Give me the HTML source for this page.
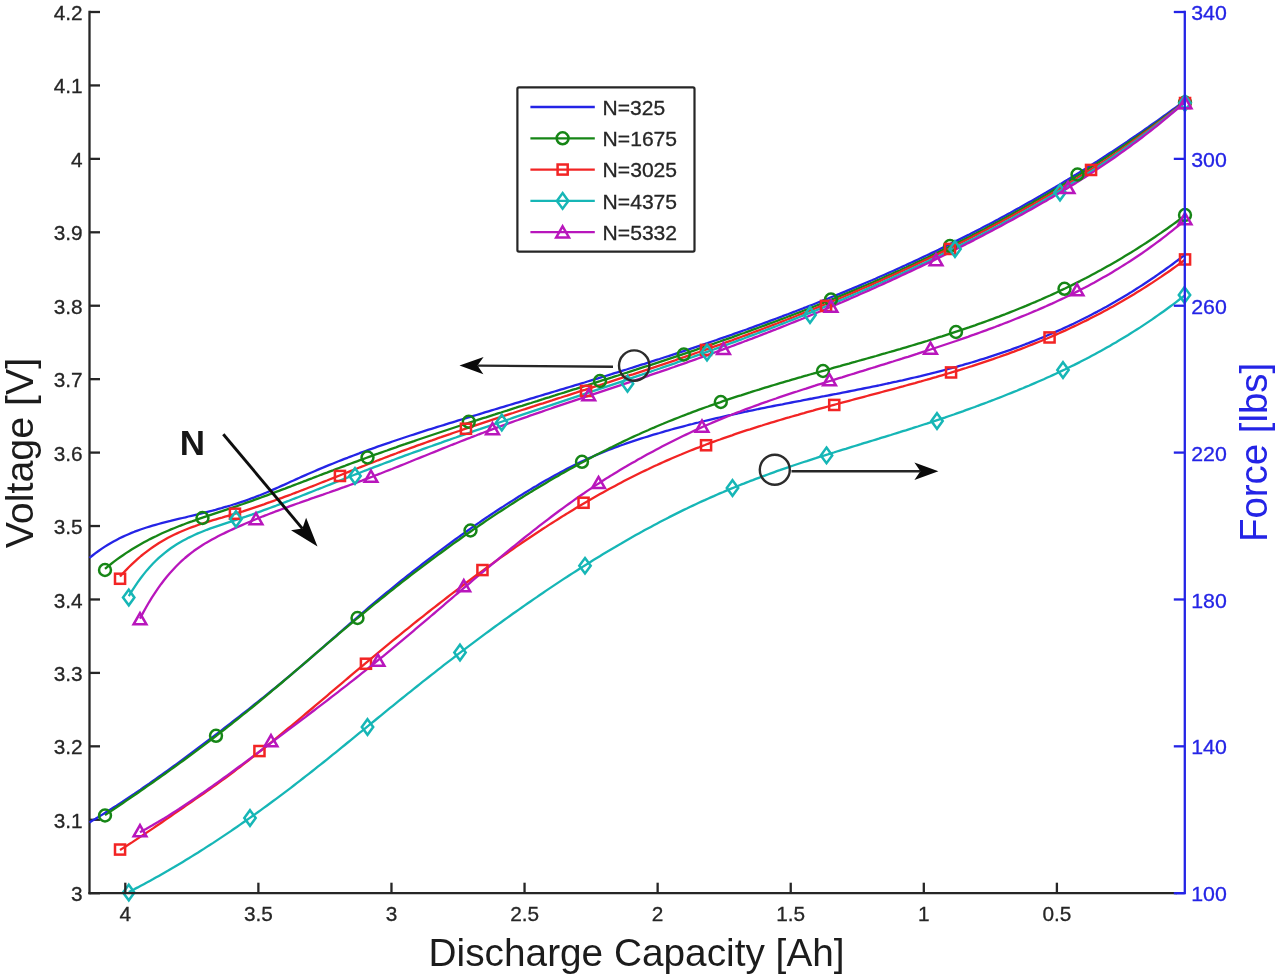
<!DOCTYPE html>
<html lang="en">
<head>
<meta charset="utf-8">
<title>Voltage and Force vs Discharge Capacity</title>
<style>
html,body{margin:0;padding:0;background:#fff;}
body{width:1280px;height:975px;overflow:hidden;font-family:"Liberation Sans",Arial,Helvetica,sans-serif;}
svg{display:block;filter:blur(0.55px);}
</style>
</head>
<body>
<svg width="1280" height="975" viewBox="0 0 1280 975" font-family="'Liberation Sans', Arial, Helvetica, sans-serif">
<rect width="1280" height="975" fill="#fff"/>
<g stroke="#262626" stroke-width="2.3" fill="none" stroke-linecap="butt">
<path d="M89.5,10.85 V894.35"/>
<path d="M89.5,893.20 h10.5"/>
<path d="M89.5,819.77 h10.5"/>
<path d="M89.5,746.33 h10.5"/>
<path d="M89.5,672.90 h10.5"/>
<path d="M89.5,599.47 h10.5"/>
<path d="M89.5,526.03 h10.5"/>
<path d="M89.5,452.60 h10.5"/>
<path d="M89.5,379.17 h10.5"/>
<path d="M89.5,305.73 h10.5"/>
<path d="M89.5,232.30 h10.5"/>
<path d="M89.5,158.87 h10.5"/>
<path d="M89.5,85.43 h10.5"/>
<path d="M89.5,12.00 h10.5"/>
</g>
<g fill="none" stroke-linejoin="round" stroke-linecap="butt">
<path d="M89.5,822.4 L92.5,820.6 L95.5,818.8 L98.5,816.9 L101.5,815.1 L104.5,813.2 L107.5,811.3 L110.5,809.4 L113.5,807.5 L116.5,805.6 L119.5,803.6 L122.5,801.7 L125.5,799.7 L128.5,797.7 L131.5,795.7 L134.5,793.7 L137.5,791.6 L140.5,789.6 L143.5,787.5 L146.5,785.4 L149.5,783.4 L152.5,781.3 L155.5,779.2 L158.5,777.0 L161.5,774.9 L164.5,772.8 L167.5,770.6 L170.5,768.4 L173.5,766.3 L176.5,764.1 L179.5,761.9 L182.5,759.7 L185.5,757.5 L188.5,755.2 L191.5,753.0 L194.5,750.8 L197.5,748.5 L200.5,746.3 L203.5,744.0 L206.5,741.7 L209.5,739.5 L212.5,737.2 L215.5,734.9 L218.5,732.6 L221.5,730.3 L224.5,728.0 L227.5,725.7 L230.5,723.4 L233.5,721.0 L236.5,718.7 L239.5,716.3 L242.5,714.0 L245.5,711.6 L248.5,709.3 L251.5,706.9 L254.5,704.5 L257.5,702.1 L260.5,699.7 L263.5,697.3 L266.5,694.9 L269.5,692.4 L272.5,690.0 L275.5,687.6 L278.5,685.1 L281.5,682.6 L284.5,680.1 L287.5,677.6 L290.5,675.1 L293.5,672.6 L296.5,670.1 L299.5,667.5 L302.5,665.0 L305.5,662.4 L308.5,659.8 L311.5,657.2 L314.5,654.6 L317.5,652.0 L320.5,649.4 L323.5,646.8 L326.5,644.2 L329.5,641.5 L332.5,638.9 L335.5,636.3 L338.5,633.7 L341.5,631.0 L344.5,628.4 L347.5,625.8 L350.5,623.2 L353.5,620.6 L356.5,618.0 L359.5,615.4 L362.5,612.8 L365.5,610.3 L368.5,607.7 L371.5,605.2 L374.5,602.7 L377.5,600.2 L380.5,597.7 L383.5,595.2 L386.5,592.7 L389.5,590.3 L392.5,587.8 L395.5,585.4 L398.5,582.9 L401.5,580.5 L404.5,578.1 L407.5,575.7 L410.5,573.4 L413.5,571.0 L416.5,568.7 L419.5,566.3 L422.5,564.0 L425.5,561.7 L428.5,559.4 L431.5,557.1 L434.5,554.8 L437.5,552.6 L440.5,550.3 L443.5,548.1 L446.5,545.9 L449.5,543.7 L452.5,541.5 L455.5,539.3 L458.5,537.1 L461.5,535.0 L464.5,532.9 L467.5,530.7 L470.5,528.6 L473.5,526.5 L476.5,524.4 L479.5,522.4 L482.5,520.3 L485.5,518.3 L488.5,516.3 L491.5,514.2 L494.5,512.3 L497.5,510.3 L500.5,508.3 L503.5,506.4 L506.5,504.4 L509.5,502.5 L512.5,500.6 L515.5,498.7 L518.5,496.8 L521.5,494.9 L524.5,493.1 L527.5,491.3 L530.5,489.4 L533.5,487.6 L536.5,485.9 L539.5,484.1 L542.5,482.3 L545.5,480.6 L548.5,478.9 L551.5,477.2 L554.5,475.5 L557.5,473.9 L560.5,472.3 L563.5,470.7 L566.5,469.1 L569.5,467.5 L572.5,466.0 L575.5,464.5 L578.5,463.1 L581.5,461.6 L584.5,460.2 L587.5,458.9 L590.5,457.5 L593.5,456.2 L596.5,454.9 L599.5,453.7 L602.5,452.4 L605.5,451.2 L608.5,450.0 L611.5,448.9 L614.5,447.7 L617.5,446.6 L620.5,445.5 L623.5,444.5 L626.5,443.4 L629.5,442.4 L632.5,441.4 L635.5,440.4 L638.5,439.4 L641.5,438.4 L644.5,437.5 L647.5,436.6 L650.5,435.6 L653.5,434.7 L656.5,433.8 L659.5,433.0 L662.5,432.1 L665.5,431.2 L668.5,430.4 L671.5,429.5 L674.5,428.7 L677.5,427.9 L680.5,427.1 L683.5,426.3 L686.5,425.5 L689.5,424.7 L692.5,424.0 L695.5,423.2 L698.5,422.5 L701.5,421.7 L704.5,421.0 L707.5,420.3 L710.5,419.6 L713.5,418.9 L716.5,418.2 L719.5,417.5 L722.5,416.8 L725.5,416.1 L728.5,415.4 L731.5,414.8 L734.5,414.1 L737.5,413.5 L740.5,412.8 L743.5,412.2 L746.5,411.5 L749.5,410.9 L752.5,410.3 L755.5,409.7 L758.5,409.0 L761.5,408.4 L764.5,407.8 L767.5,407.2 L770.5,406.6 L773.5,406.0 L776.5,405.4 L779.5,404.8 L782.5,404.3 L785.5,403.7 L788.5,403.1 L791.5,402.5 L794.5,401.9 L797.5,401.3 L800.5,400.8 L803.5,400.2 L806.5,399.6 L809.5,399.0 L812.5,398.5 L815.5,397.9 L818.5,397.3 L821.5,396.7 L824.5,396.2 L827.5,395.6 L830.5,395.0 L833.5,394.4 L836.5,393.9 L839.5,393.3 L842.5,392.7 L845.5,392.1 L848.5,391.5 L851.5,390.9 L854.5,390.3 L857.5,389.7 L860.5,389.1 L863.5,388.5 L866.5,387.9 L869.5,387.3 L872.5,386.7 L875.5,386.1 L878.5,385.5 L881.5,384.8 L884.5,384.2 L887.5,383.5 L890.5,382.9 L893.5,382.2 L896.5,381.6 L899.5,380.9 L902.5,380.3 L905.5,379.6 L908.5,378.9 L911.5,378.2 L914.5,377.5 L917.5,376.8 L920.5,376.1 L923.5,375.3 L926.5,374.6 L929.5,373.9 L932.5,373.1 L935.5,372.4 L938.5,371.6 L941.5,370.8 L944.5,370.0 L947.5,369.2 L950.5,368.4 L953.5,367.6 L956.5,366.8 L959.5,365.9 L962.5,365.1 L965.5,364.2 L968.5,363.4 L971.5,362.5 L974.5,361.6 L977.5,360.7 L980.5,359.7 L983.5,358.8 L986.5,357.9 L989.5,356.9 L992.5,355.9 L995.5,354.9 L998.5,353.9 L1001.5,352.9 L1004.5,351.9 L1007.5,350.8 L1010.5,349.8 L1013.5,348.7 L1016.5,347.6 L1019.5,346.5 L1022.5,345.4 L1025.5,344.2 L1028.5,343.1 L1031.5,341.9 L1034.5,340.7 L1037.5,339.5 L1040.5,338.3 L1043.5,337.1 L1046.5,335.8 L1049.5,334.5 L1052.5,333.2 L1055.5,331.9 L1058.5,330.6 L1061.5,329.3 L1064.5,327.9 L1067.5,326.5 L1070.5,325.1 L1073.5,323.7 L1076.5,322.2 L1079.5,320.8 L1082.5,319.3 L1085.5,317.8 L1088.5,316.3 L1091.5,314.7 L1094.5,313.1 L1097.5,311.6 L1100.5,309.9 L1103.5,308.3 L1106.5,306.7 L1109.5,305.0 L1112.5,303.3 L1115.5,301.6 L1118.5,299.8 L1121.5,298.0 L1124.5,296.2 L1127.5,294.4 L1130.5,292.6 L1133.5,290.7 L1136.5,288.8 L1139.5,286.9 L1142.5,285.0 L1145.5,283.0 L1148.5,281.0 L1151.5,279.0 L1154.5,277.0 L1157.5,274.9 L1160.5,272.8 L1163.5,270.7 L1166.5,268.5 L1169.5,266.4 L1172.5,264.2 L1175.5,261.9 L1178.5,259.7 L1181.5,257.4 L1184.5,255.1 L1185.0,254.7" stroke="#2424e6" stroke-width="2.3"/>
<path d="M105.0,815.1 L108.0,813.1 L111.0,811.1 L114.0,809.0 L117.0,807.0 L120.0,805.0 L123.0,803.0 L126.0,800.9 L129.0,798.9 L132.0,796.8 L135.0,794.8 L138.0,792.7 L141.0,790.6 L144.0,788.5 L147.0,786.4 L150.0,784.4 L153.0,782.2 L156.0,780.1 L159.0,778.0 L162.0,775.9 L165.0,773.7 L168.0,771.6 L171.0,769.4 L174.0,767.3 L177.0,765.1 L180.0,762.9 L183.0,760.7 L186.0,758.5 L189.0,756.3 L192.0,754.1 L195.0,751.9 L198.0,749.6 L201.0,747.4 L204.0,745.1 L207.0,742.8 L210.0,740.5 L213.0,738.3 L216.0,736.0 L219.0,733.6 L222.0,731.3 L225.0,729.0 L228.0,726.6 L231.0,724.3 L234.0,721.9 L237.0,719.5 L240.0,717.1 L243.0,714.7 L246.0,712.3 L249.0,709.9 L252.0,707.5 L255.0,705.0 L258.0,702.5 L261.0,700.1 L264.0,697.6 L267.0,695.1 L270.0,692.6 L273.0,690.0 L276.0,687.5 L279.0,685.0 L282.0,682.5 L285.0,679.9 L288.0,677.4 L291.0,674.8 L294.0,672.2 L297.0,669.7 L300.0,667.1 L303.0,664.5 L306.0,662.0 L309.0,659.4 L312.0,656.8 L315.0,654.2 L318.0,651.7 L321.0,649.1 L324.0,646.5 L327.0,643.9 L330.0,641.4 L333.0,638.8 L336.0,636.3 L339.0,633.7 L342.0,631.2 L345.0,628.6 L348.0,626.1 L351.0,623.6 L354.0,621.1 L357.0,618.5 L360.0,616.1 L363.0,613.6 L366.0,611.1 L369.0,608.6 L372.0,606.2 L375.0,603.7 L378.0,601.3 L381.0,598.9 L384.0,596.5 L387.0,594.1 L390.0,591.7 L393.0,589.3 L396.0,586.9 L399.0,584.6 L402.0,582.2 L405.0,579.9 L408.0,577.5 L411.0,575.2 L414.0,572.9 L417.0,570.6 L420.0,568.3 L423.0,566.1 L426.0,563.8 L429.0,561.5 L432.0,559.3 L435.0,557.1 L438.0,554.9 L441.0,552.7 L444.0,550.5 L447.0,548.3 L450.0,546.1 L453.0,543.9 L456.0,541.8 L459.0,539.7 L462.0,537.5 L465.0,535.4 L468.0,533.3 L471.0,531.2 L474.0,529.1 L477.0,527.1 L480.0,525.0 L483.0,523.0 L486.0,520.9 L489.0,518.9 L492.0,516.9 L495.0,514.9 L498.0,512.9 L501.0,511.0 L504.0,509.0 L507.0,507.1 L510.0,505.1 L513.0,503.2 L516.0,501.3 L519.0,499.4 L522.0,497.5 L525.0,495.6 L528.0,493.8 L531.0,491.9 L534.0,490.1 L537.0,488.3 L540.0,486.5 L543.0,484.7 L546.0,482.9 L549.0,481.1 L552.0,479.3 L555.0,477.6 L558.0,475.9 L561.0,474.1 L564.0,472.4 L567.0,470.7 L570.0,469.1 L573.0,467.4 L576.0,465.7 L579.0,464.1 L582.0,462.5 L585.0,460.9 L588.0,459.3 L591.0,457.7 L594.0,456.1 L597.0,454.5 L600.0,453.0 L603.0,451.5 L606.0,450.0 L609.0,448.4 L612.0,447.0 L615.0,445.5 L618.0,444.0 L621.0,442.6 L624.0,441.1 L627.0,439.7 L630.0,438.3 L633.0,436.9 L636.0,435.5 L639.0,434.2 L642.0,432.8 L645.0,431.5 L648.0,430.2 L651.0,428.8 L654.0,427.6 L657.0,426.3 L660.0,425.0 L663.0,423.8 L666.0,422.5 L669.0,421.3 L672.0,420.1 L675.0,418.9 L678.0,417.7 L681.0,416.5 L684.0,415.4 L687.0,414.2 L690.0,413.1 L693.0,411.9 L696.0,410.8 L699.0,409.7 L702.0,408.6 L705.0,407.5 L708.0,406.5 L711.0,405.4 L714.0,404.3 L717.0,403.3 L720.0,402.3 L723.0,401.2 L726.0,400.2 L729.0,399.2 L732.0,398.2 L735.0,397.2 L738.0,396.2 L741.0,395.3 L744.0,394.3 L747.0,393.3 L750.0,392.4 L753.0,391.4 L756.0,390.5 L759.0,389.6 L762.0,388.6 L765.0,387.7 L768.0,386.8 L771.0,385.9 L774.0,385.0 L777.0,384.1 L780.0,383.2 L783.0,382.3 L786.0,381.4 L789.0,380.6 L792.0,379.7 L795.0,378.8 L798.0,377.9 L801.0,377.1 L804.0,376.2 L807.0,375.4 L810.0,374.5 L813.0,373.7 L816.0,372.8 L819.0,372.0 L822.0,371.1 L825.0,370.3 L828.0,369.4 L831.0,368.6 L834.0,367.7 L837.0,366.9 L840.0,366.1 L843.0,365.2 L846.0,364.4 L849.0,363.6 L852.0,362.7 L855.0,361.9 L858.0,361.0 L861.0,360.2 L864.0,359.3 L867.0,358.5 L870.0,357.7 L873.0,356.8 L876.0,356.0 L879.0,355.1 L882.0,354.2 L885.0,353.4 L888.0,352.5 L891.0,351.7 L894.0,350.8 L897.0,349.9 L900.0,349.1 L903.0,348.2 L906.0,347.3 L909.0,346.4 L912.0,345.5 L915.0,344.6 L918.0,343.7 L921.0,342.8 L924.0,341.9 L927.0,341.0 L930.0,340.0 L933.0,339.1 L936.0,338.2 L939.0,337.2 L942.0,336.3 L945.0,335.3 L948.0,334.3 L951.0,333.4 L954.0,332.4 L957.0,331.4 L960.0,330.4 L963.0,329.4 L966.0,328.4 L969.0,327.4 L972.0,326.3 L975.0,325.3 L978.0,324.2 L981.0,323.2 L984.0,322.1 L987.0,321.0 L990.0,319.9 L993.0,318.8 L996.0,317.7 L999.0,316.6 L1002.0,315.4 L1005.0,314.3 L1008.0,313.1 L1011.0,311.9 L1014.0,310.7 L1017.0,309.5 L1020.0,308.3 L1023.0,307.1 L1026.0,305.9 L1029.0,304.6 L1032.0,303.3 L1035.0,302.1 L1038.0,300.8 L1041.0,299.5 L1044.0,298.1 L1047.0,296.8 L1050.0,295.5 L1053.0,294.1 L1056.0,292.7 L1059.0,291.3 L1062.0,289.9 L1065.0,288.5 L1068.0,287.0 L1071.0,285.6 L1074.0,284.1 L1077.0,282.6 L1080.0,281.1 L1083.0,279.5 L1086.0,278.0 L1089.0,276.4 L1092.0,274.8 L1095.0,273.2 L1098.0,271.6 L1101.0,270.0 L1104.0,268.3 L1107.0,266.6 L1110.0,264.9 L1113.0,263.2 L1116.0,261.5 L1119.0,259.7 L1122.0,257.9 L1125.0,256.1 L1128.0,254.3 L1131.0,252.5 L1134.0,250.6 L1137.0,248.7 L1140.0,246.8 L1143.0,244.9 L1146.0,243.0 L1149.0,241.0 L1152.0,239.0 L1155.0,237.0 L1158.0,234.9 L1161.0,232.9 L1164.0,230.8 L1167.0,228.7 L1170.0,226.5 L1173.0,224.4 L1176.0,222.2 L1179.0,220.0 L1182.0,217.8 L1185.0,215.5" stroke="#168616" stroke-width="2.3"/>
<path d="M120.0,850.0 L123.0,848.1 L126.0,846.2 L129.0,844.3 L132.0,842.4 L135.0,840.4 L138.0,838.4 L141.0,836.4 L144.0,834.4 L147.0,832.4 L150.0,830.4 L153.0,828.4 L156.0,826.3 L159.0,824.3 L162.0,822.2 L165.0,820.1 L168.0,818.1 L171.0,816.0 L174.0,813.9 L177.0,811.8 L180.0,809.8 L183.0,807.7 L186.0,805.6 L189.0,803.6 L192.0,801.5 L195.0,799.4 L198.0,797.4 L201.0,795.3 L204.0,793.2 L207.0,791.1 L210.0,789.0 L213.0,786.9 L216.0,784.7 L219.0,782.6 L222.0,780.4 L225.0,778.2 L228.0,776.0 L231.0,773.8 L234.0,771.5 L237.0,769.2 L240.0,767.0 L243.0,764.6 L246.0,762.3 L249.0,760.0 L252.0,757.7 L255.0,755.3 L258.0,752.9 L261.0,750.5 L264.0,748.1 L267.0,745.7 L270.0,743.3 L273.0,740.9 L276.0,738.4 L279.0,736.0 L282.0,733.5 L285.0,731.0 L288.0,728.5 L291.0,726.1 L294.0,723.6 L297.0,721.1 L300.0,718.6 L303.0,716.0 L306.0,713.5 L309.0,711.0 L312.0,708.5 L315.0,705.9 L318.0,703.4 L321.0,700.9 L324.0,698.3 L327.0,695.8 L330.0,693.2 L333.0,690.7 L336.0,688.1 L339.0,685.6 L342.0,683.1 L345.0,680.5 L348.0,678.0 L351.0,675.4 L354.0,672.9 L357.0,670.4 L360.0,667.9 L363.0,665.3 L366.0,662.8 L369.0,660.3 L372.0,657.8 L375.0,655.3 L378.0,652.8 L381.0,650.3 L384.0,647.8 L387.0,645.4 L390.0,642.9 L393.0,640.4 L396.0,638.0 L399.0,635.6 L402.0,633.1 L405.0,630.7 L408.0,628.3 L411.0,625.8 L414.0,623.4 L417.0,621.0 L420.0,618.6 L423.0,616.3 L426.0,613.9 L429.0,611.5 L432.0,609.1 L435.0,606.8 L438.0,604.5 L441.0,602.1 L444.0,599.8 L447.0,597.5 L450.0,595.2 L453.0,592.9 L456.0,590.6 L459.0,588.3 L462.0,586.0 L465.0,583.8 L468.0,581.5 L471.0,579.3 L474.0,577.0 L477.0,574.8 L480.0,572.6 L483.0,570.4 L486.0,568.2 L489.0,566.0 L492.0,563.9 L495.0,561.7 L498.0,559.6 L501.0,557.4 L504.0,555.3 L507.0,553.2 L510.0,551.1 L513.0,549.0 L516.0,546.9 L519.0,544.9 L522.0,542.8 L525.0,540.8 L528.0,538.8 L531.0,536.7 L534.0,534.7 L537.0,532.7 L540.0,530.8 L543.0,528.8 L546.0,526.9 L549.0,524.9 L552.0,523.0 L555.0,521.1 L558.0,519.2 L561.0,517.3 L564.0,515.4 L567.0,513.6 L570.0,511.7 L573.0,509.9 L576.0,508.1 L579.0,506.3 L582.0,504.5 L585.0,502.7 L588.0,501.0 L591.0,499.2 L594.0,497.5 L597.0,495.8 L600.0,494.1 L603.0,492.4 L606.0,490.8 L609.0,489.1 L612.0,487.5 L615.0,485.9 L618.0,484.3 L621.0,482.7 L624.0,481.1 L627.0,479.5 L630.0,478.0 L633.0,476.5 L636.0,475.0 L639.0,473.5 L642.0,472.0 L645.0,470.6 L648.0,469.2 L651.0,467.7 L654.0,466.3 L657.0,465.0 L660.0,463.6 L663.0,462.2 L666.0,460.9 L669.0,459.6 L672.0,458.3 L675.0,457.0 L678.0,455.7 L681.0,454.5 L684.0,453.2 L687.0,452.0 L690.0,450.8 L693.0,449.6 L696.0,448.4 L699.0,447.3 L702.0,446.1 L705.0,445.0 L708.0,443.8 L711.0,442.7 L714.0,441.6 L717.0,440.5 L720.0,439.5 L723.0,438.4 L726.0,437.3 L729.0,436.3 L732.0,435.3 L735.0,434.2 L738.0,433.2 L741.0,432.2 L744.0,431.2 L747.0,430.2 L750.0,429.3 L753.0,428.3 L756.0,427.3 L759.0,426.4 L762.0,425.5 L765.0,424.5 L768.0,423.6 L771.0,422.7 L774.0,421.8 L777.0,420.9 L780.0,420.0 L783.0,419.1 L786.0,418.2 L789.0,417.4 L792.0,416.5 L795.0,415.6 L798.0,414.8 L801.0,413.9 L804.0,413.1 L807.0,412.2 L810.0,411.4 L813.0,410.6 L816.0,409.7 L819.0,408.9 L822.0,408.1 L825.0,407.3 L828.0,406.5 L831.0,405.7 L834.0,404.8 L837.0,404.0 L840.0,403.2 L843.0,402.4 L846.0,401.6 L849.0,400.8 L852.0,400.0 L855.0,399.2 L858.0,398.4 L861.0,397.6 L864.0,396.8 L867.0,396.0 L870.0,395.2 L873.0,394.4 L876.0,393.6 L879.0,392.8 L882.0,392.0 L885.0,391.2 L888.0,390.4 L891.0,389.6 L894.0,388.8 L897.0,388.0 L900.0,387.2 L903.0,386.4 L906.0,385.5 L909.0,384.7 L912.0,383.9 L915.0,383.1 L918.0,382.2 L921.0,381.4 L924.0,380.5 L927.0,379.7 L930.0,378.8 L933.0,377.9 L936.0,377.1 L939.0,376.2 L942.0,375.3 L945.0,374.4 L948.0,373.5 L951.0,372.6 L954.0,371.7 L957.0,370.8 L960.0,369.9 L963.0,368.9 L966.0,368.0 L969.0,367.0 L972.0,366.1 L975.0,365.1 L978.0,364.1 L981.0,363.1 L984.0,362.1 L987.0,361.1 L990.0,360.1 L993.0,359.1 L996.0,358.0 L999.0,357.0 L1002.0,355.9 L1005.0,354.9 L1008.0,353.8 L1011.0,352.7 L1014.0,351.6 L1017.0,350.4 L1020.0,349.3 L1023.0,348.2 L1026.0,347.0 L1029.0,345.8 L1032.0,344.6 L1035.0,343.4 L1038.0,342.2 L1041.0,341.0 L1044.0,339.7 L1047.0,338.5 L1050.0,337.2 L1053.0,335.9 L1056.0,334.6 L1059.0,333.3 L1062.0,331.9 L1065.0,330.6 L1068.0,329.2 L1071.0,327.8 L1074.0,326.4 L1077.0,325.0 L1080.0,323.5 L1083.0,322.0 L1086.0,320.6 L1089.0,319.1 L1092.0,317.5 L1095.0,316.0 L1098.0,314.5 L1101.0,312.9 L1104.0,311.3 L1107.0,309.7 L1110.0,308.0 L1113.0,306.4 L1116.0,304.7 L1119.0,303.0 L1122.0,301.3 L1125.0,299.5 L1128.0,297.8 L1131.0,296.0 L1134.0,294.2 L1137.0,292.3 L1140.0,290.5 L1143.0,288.6 L1146.0,286.7 L1149.0,284.8 L1152.0,282.9 L1155.0,280.9 L1158.0,278.9 L1161.0,276.9 L1164.0,274.8 L1167.0,272.8 L1170.0,270.7 L1173.0,268.5 L1176.0,266.4 L1179.0,264.2 L1182.0,262.0 L1185.0,259.8" stroke="#f22424" stroke-width="2.3"/>
<path d="M128.8,892.0 L131.8,890.5 L134.8,888.9 L137.8,887.4 L140.8,885.8 L143.8,884.2 L146.8,882.6 L149.8,880.9 L152.8,879.3 L155.8,877.6 L158.8,875.9 L161.8,874.2 L164.8,872.5 L167.8,870.8 L170.8,869.0 L173.8,867.3 L176.8,865.5 L179.8,863.7 L182.8,861.9 L185.8,860.1 L188.8,858.3 L191.8,856.4 L194.8,854.5 L197.8,852.7 L200.8,850.8 L203.8,848.9 L206.8,846.9 L209.8,845.0 L212.8,843.1 L215.8,841.1 L218.8,839.1 L221.8,837.1 L224.8,835.1 L227.8,833.1 L230.8,831.1 L233.8,829.0 L236.8,827.0 L239.8,824.9 L242.8,822.8 L245.8,820.7 L248.8,818.6 L251.8,816.5 L254.8,814.4 L257.8,812.2 L260.8,810.1 L263.8,807.9 L266.8,805.7 L269.8,803.5 L272.8,801.3 L275.8,799.1 L278.8,796.8 L281.8,794.6 L284.8,792.3 L287.8,790.1 L290.8,787.8 L293.8,785.5 L296.8,783.2 L299.8,780.9 L302.8,778.5 L305.8,776.2 L308.8,773.9 L311.8,771.5 L314.8,769.1 L317.8,766.7 L320.8,764.4 L323.8,762.0 L326.8,759.6 L329.8,757.1 L332.8,754.7 L335.8,752.3 L338.8,749.9 L341.8,747.4 L344.8,745.0 L347.8,742.5 L350.8,740.1 L353.8,737.7 L356.8,735.2 L359.8,732.7 L362.8,730.3 L365.8,727.8 L368.8,725.4 L371.8,722.9 L374.8,720.5 L377.8,718.0 L380.8,715.6 L383.8,713.1 L386.8,710.7 L389.8,708.2 L392.8,705.8 L395.8,703.3 L398.8,700.9 L401.8,698.5 L404.8,696.1 L407.8,693.7 L410.8,691.3 L413.8,688.9 L416.8,686.5 L419.8,684.1 L422.8,681.7 L425.8,679.3 L428.8,677.0 L431.8,674.6 L434.8,672.3 L437.8,669.9 L440.8,667.6 L443.8,665.2 L446.8,662.9 L449.8,660.6 L452.8,658.3 L455.8,656.0 L458.8,653.7 L461.8,651.4 L464.8,649.1 L467.8,646.9 L470.8,644.6 L473.8,642.4 L476.8,640.1 L479.8,637.9 L482.8,635.6 L485.8,633.4 L488.8,631.2 L491.8,629.0 L494.8,626.8 L497.8,624.6 L500.8,622.5 L503.8,620.3 L506.8,618.1 L509.8,616.0 L512.8,613.8 L515.8,611.7 L518.8,609.6 L521.8,607.5 L524.8,605.4 L527.8,603.3 L530.8,601.2 L533.8,599.1 L536.8,597.1 L539.8,595.0 L542.8,593.0 L545.8,590.9 L548.8,588.9 L551.8,586.9 L554.8,584.9 L557.8,582.9 L560.8,580.9 L563.8,578.9 L566.8,577.0 L569.8,575.0 L572.8,573.1 L575.8,571.2 L578.8,569.3 L581.8,567.4 L584.8,565.5 L587.8,563.6 L590.8,561.7 L593.8,559.8 L596.8,558.0 L599.8,556.2 L602.8,554.3 L605.8,552.5 L608.8,550.7 L611.8,548.9 L614.8,547.2 L617.8,545.4 L620.8,543.7 L623.8,541.9 L626.8,540.2 L629.8,538.5 L632.8,536.8 L635.8,535.1 L638.8,533.4 L641.8,531.8 L644.8,530.1 L647.8,528.5 L650.8,526.9 L653.8,525.3 L656.8,523.7 L659.8,522.1 L662.8,520.5 L665.8,519.0 L668.8,517.4 L671.8,515.9 L674.8,514.4 L677.8,512.9 L680.8,511.4 L683.8,509.9 L686.8,508.5 L689.8,507.0 L692.8,505.6 L695.8,504.2 L698.8,502.8 L701.8,501.4 L704.8,500.1 L707.8,498.7 L710.8,497.4 L713.8,496.1 L716.8,494.7 L719.8,493.4 L722.8,492.2 L725.8,490.9 L728.8,489.6 L731.8,488.4 L734.8,487.2 L737.8,486.0 L740.8,484.7 L743.8,483.6 L746.8,482.4 L749.8,481.2 L752.8,480.1 L755.8,478.9 L758.8,477.8 L761.8,476.7 L764.8,475.6 L767.8,474.5 L770.8,473.4 L773.8,472.3 L776.8,471.2 L779.8,470.2 L782.8,469.1 L785.8,468.1 L788.8,467.1 L791.8,466.0 L794.8,465.0 L797.8,464.0 L800.8,463.0 L803.8,462.0 L806.8,461.1 L809.8,460.1 L812.8,459.1 L815.8,458.2 L818.8,457.2 L821.8,456.2 L824.8,455.3 L827.8,454.4 L830.8,453.4 L833.8,452.5 L836.8,451.5 L839.8,450.6 L842.8,449.7 L845.8,448.8 L848.8,447.8 L851.8,446.9 L854.8,446.0 L857.8,445.1 L860.8,444.2 L863.8,443.2 L866.8,442.3 L869.8,441.4 L872.8,440.5 L875.8,439.6 L878.8,438.7 L881.8,437.7 L884.8,436.8 L887.8,435.9 L890.8,435.0 L893.8,434.0 L896.8,433.1 L899.8,432.2 L902.8,431.2 L905.8,430.3 L908.8,429.3 L911.8,428.4 L914.8,427.4 L917.8,426.5 L920.8,425.5 L923.8,424.5 L926.8,423.6 L929.8,422.6 L932.8,421.6 L935.8,420.6 L938.8,419.6 L941.8,418.6 L944.8,417.6 L947.8,416.5 L950.8,415.5 L953.8,414.5 L956.8,413.4 L959.8,412.3 L962.8,411.3 L965.8,410.2 L968.8,409.1 L971.8,408.0 L974.8,407.0 L977.8,405.8 L980.8,404.7 L983.8,403.6 L986.8,402.5 L989.8,401.3 L992.8,400.2 L995.8,399.0 L998.8,397.9 L1001.8,396.7 L1004.8,395.5 L1007.8,394.3 L1010.8,393.1 L1013.8,391.9 L1016.8,390.7 L1019.8,389.4 L1022.8,388.2 L1025.8,386.9 L1028.8,385.7 L1031.8,384.4 L1034.8,383.1 L1037.8,381.8 L1040.8,380.5 L1043.8,379.2 L1046.8,377.8 L1049.8,376.5 L1052.8,375.1 L1055.8,373.7 L1058.8,372.3 L1061.8,370.9 L1064.8,369.5 L1067.8,368.0 L1070.8,366.5 L1073.8,365.1 L1076.8,363.6 L1079.8,362.1 L1082.8,360.5 L1085.8,359.0 L1088.8,357.4 L1091.8,355.8 L1094.8,354.2 L1097.8,352.6 L1100.8,350.9 L1103.8,349.3 L1106.8,347.6 L1109.8,345.9 L1112.8,344.1 L1115.8,342.4 L1118.8,340.6 L1121.8,338.8 L1124.8,337.0 L1127.8,335.2 L1130.8,333.3 L1133.8,331.4 L1136.8,329.5 L1139.8,327.6 L1142.8,325.6 L1145.8,323.6 L1148.8,321.6 L1151.8,319.6 L1154.8,317.5 L1157.8,315.4 L1160.8,313.3 L1163.8,311.2 L1166.8,309.0 L1169.8,306.8 L1172.8,304.6 L1175.8,302.3 L1178.8,300.0 L1181.8,297.7 L1184.5,295.6" stroke="#16b6b6" stroke-width="2.3"/>
<path d="M140.0,832.2 L143.0,830.6 L146.0,829.0 L149.0,827.3 L152.0,825.6 L155.0,823.8 L158.0,822.1 L161.0,820.3 L164.0,818.5 L167.0,816.6 L170.0,814.7 L173.0,812.8 L176.0,810.9 L179.0,809.0 L182.0,807.0 L185.0,805.0 L188.0,803.0 L191.0,801.0 L194.0,799.0 L197.0,796.9 L200.0,794.8 L203.0,792.8 L206.0,790.7 L209.0,788.5 L212.0,786.4 L215.0,784.3 L218.0,782.1 L221.0,780.0 L224.0,777.8 L227.0,775.6 L230.0,773.4 L233.0,771.2 L236.0,769.0 L239.0,766.8 L242.0,764.6 L245.0,762.3 L248.0,760.1 L251.0,757.9 L254.0,755.6 L257.0,753.4 L260.0,751.1 L263.0,748.9 L266.0,746.6 L269.0,744.4 L272.0,742.1 L275.0,739.9 L278.0,737.6 L281.0,735.4 L284.0,733.1 L287.0,730.9 L290.0,728.6 L293.0,726.4 L296.0,724.1 L299.0,721.8 L302.0,719.6 L305.0,717.3 L308.0,715.0 L311.0,712.8 L314.0,710.5 L317.0,708.2 L320.0,705.9 L323.0,703.6 L326.0,701.3 L329.0,699.0 L332.0,696.7 L335.0,694.4 L338.0,692.1 L341.0,689.7 L344.0,687.4 L347.0,685.1 L350.0,682.7 L353.0,680.4 L356.0,678.0 L359.0,675.6 L362.0,673.2 L365.0,670.8 L368.0,668.4 L371.0,666.0 L374.0,663.6 L377.0,661.2 L380.0,658.7 L383.0,656.3 L386.0,653.8 L389.0,651.3 L392.0,648.9 L395.0,646.4 L398.0,643.9 L401.0,641.4 L404.0,638.9 L407.0,636.3 L410.0,633.8 L413.0,631.3 L416.0,628.7 L419.0,626.2 L422.0,623.7 L425.0,621.1 L428.0,618.6 L431.0,616.0 L434.0,613.5 L437.0,610.9 L440.0,608.3 L443.0,605.8 L446.0,603.2 L449.0,600.7 L452.0,598.1 L455.0,595.5 L458.0,593.0 L461.0,590.4 L464.0,587.9 L467.0,585.3 L470.0,582.8 L473.0,580.2 L476.0,577.7 L479.0,575.2 L482.0,572.6 L485.0,570.1 L488.0,567.6 L491.0,565.1 L494.0,562.6 L497.0,560.1 L500.0,557.6 L503.0,555.1 L506.0,552.6 L509.0,550.2 L512.0,547.7 L515.0,545.3 L518.0,542.9 L521.0,540.5 L524.0,538.0 L527.0,535.7 L530.0,533.3 L533.0,530.9 L536.0,528.6 L539.0,526.2 L542.0,523.9 L545.0,521.6 L548.0,519.3 L551.0,517.0 L554.0,514.8 L557.0,512.5 L560.0,510.3 L563.0,508.1 L566.0,505.9 L569.0,503.7 L572.0,501.6 L575.0,499.4 L578.0,497.3 L581.0,495.2 L584.0,493.2 L587.0,491.1 L590.0,489.1 L593.0,487.1 L596.0,485.1 L599.0,483.2 L602.0,481.2 L605.0,479.3 L608.0,477.4 L611.0,475.6 L614.0,473.7 L617.0,471.9 L620.0,470.1 L623.0,468.3 L626.0,466.6 L629.0,464.8 L632.0,463.1 L635.0,461.4 L638.0,459.6 L641.0,458.0 L644.0,456.3 L647.0,454.6 L650.0,453.0 L653.0,451.4 L656.0,449.8 L659.0,448.2 L662.0,446.6 L665.0,445.0 L668.0,443.5 L671.0,442.0 L674.0,440.5 L677.0,439.0 L680.0,437.5 L683.0,436.0 L686.0,434.6 L689.0,433.2 L692.0,431.8 L695.0,430.4 L698.0,429.0 L701.0,427.6 L704.0,426.3 L707.0,425.0 L710.0,423.7 L713.0,422.4 L716.0,421.1 L719.0,419.9 L722.0,418.6 L725.0,417.4 L728.0,416.2 L731.0,415.0 L734.0,413.8 L737.0,412.6 L740.0,411.5 L743.0,410.3 L746.0,409.2 L749.0,408.1 L752.0,407.0 L755.0,405.9 L758.0,404.8 L761.0,403.7 L764.0,402.6 L767.0,401.6 L770.0,400.5 L773.0,399.5 L776.0,398.5 L779.0,397.4 L782.0,396.4 L785.0,395.4 L788.0,394.4 L791.0,393.4 L794.0,392.4 L797.0,391.5 L800.0,390.5 L803.0,389.5 L806.0,388.6 L809.0,387.6 L812.0,386.6 L815.0,385.7 L818.0,384.7 L821.0,383.8 L824.0,382.9 L827.0,381.9 L830.0,381.0 L833.0,380.1 L836.0,379.1 L839.0,378.2 L842.0,377.3 L845.0,376.3 L848.0,375.4 L851.0,374.5 L854.0,373.6 L857.0,372.6 L860.0,371.7 L863.0,370.8 L866.0,369.9 L869.0,368.9 L872.0,368.0 L875.0,367.1 L878.0,366.1 L881.0,365.2 L884.0,364.3 L887.0,363.4 L890.0,362.4 L893.0,361.5 L896.0,360.5 L899.0,359.6 L902.0,358.7 L905.0,357.7 L908.0,356.8 L911.0,355.8 L914.0,354.8 L917.0,353.9 L920.0,352.9 L923.0,351.9 L926.0,351.0 L929.0,350.0 L932.0,349.0 L935.0,348.0 L938.0,347.0 L941.0,346.0 L944.0,345.0 L947.0,344.0 L950.0,343.0 L953.0,342.0 L956.0,341.0 L959.0,339.9 L962.0,338.9 L965.0,337.8 L968.0,336.8 L971.0,335.7 L974.0,334.7 L977.0,333.6 L980.0,332.5 L983.0,331.4 L986.0,330.3 L989.0,329.2 L992.0,328.1 L995.0,327.0 L998.0,325.8 L1001.0,324.7 L1004.0,323.5 L1007.0,322.4 L1010.0,321.2 L1013.0,320.0 L1016.0,318.8 L1019.0,317.6 L1022.0,316.4 L1025.0,315.2 L1028.0,314.0 L1031.0,312.7 L1034.0,311.4 L1037.0,310.2 L1040.0,308.9 L1043.0,307.6 L1046.0,306.3 L1049.0,304.9 L1052.0,303.6 L1055.0,302.2 L1058.0,300.8 L1061.0,299.4 L1064.0,298.0 L1067.0,296.5 L1070.0,295.1 L1073.0,293.6 L1076.0,292.1 L1079.0,290.6 L1082.0,289.0 L1085.0,287.5 L1088.0,285.9 L1091.0,284.3 L1094.0,282.7 L1097.0,281.0 L1100.0,279.3 L1103.0,277.6 L1106.0,275.9 L1109.0,274.2 L1112.0,272.4 L1115.0,270.6 L1118.0,268.8 L1121.0,266.9 L1124.0,265.0 L1127.0,263.1 L1130.0,261.2 L1133.0,259.2 L1136.0,257.2 L1139.0,255.2 L1142.0,253.2 L1145.0,251.1 L1148.0,249.0 L1151.0,246.8 L1154.0,244.6 L1157.0,242.4 L1160.0,240.2 L1163.0,237.9 L1166.0,235.6 L1169.0,233.2 L1172.0,230.8 L1175.0,228.4 L1178.0,226.0 L1181.0,223.5 L1184.0,220.9 L1185.0,220.1" stroke="#b816bc" stroke-width="2.3"/>
<path d="M89.5,557.9 L92.5,555.5 L95.5,553.2 L98.5,551.0 L101.5,548.9 L104.5,546.9 L107.5,545.0 L110.5,543.2 L113.5,541.5 L116.5,539.9 L119.5,538.3 L122.5,536.9 L125.5,535.5 L128.5,534.2 L131.5,532.9 L134.5,531.7 L137.5,530.6 L140.5,529.5 L143.5,528.5 L146.5,527.5 L149.5,526.6 L152.5,525.7 L155.5,524.8 L158.5,524.0 L161.5,523.2 L164.5,522.4 L167.5,521.6 L170.5,520.9 L173.5,520.1 L176.5,519.4 L179.5,518.7 L182.5,518.0 L185.5,517.3 L188.5,516.5 L191.5,515.8 L194.5,515.1 L197.5,514.4 L200.5,513.6 L203.5,512.9 L206.5,512.1 L209.5,511.3 L212.5,510.6 L215.5,509.8 L218.5,508.9 L221.5,508.1 L224.5,507.2 L227.5,506.4 L230.5,505.5 L233.5,504.5 L236.5,503.6 L239.5,502.6 L242.5,501.6 L245.5,500.6 L248.5,499.5 L251.5,498.4 L254.5,497.3 L257.5,496.1 L260.5,495.0 L263.5,493.7 L266.5,492.5 L269.5,491.2 L272.5,489.9 L275.5,488.6 L278.5,487.3 L281.5,485.9 L284.5,484.6 L287.5,483.2 L290.5,481.8 L293.5,480.5 L296.5,479.1 L299.5,477.8 L302.5,476.4 L305.5,475.1 L308.5,473.8 L311.5,472.5 L314.5,471.2 L317.5,469.9 L320.5,468.6 L323.5,467.4 L326.5,466.1 L329.5,464.9 L332.5,463.7 L335.5,462.5 L338.5,461.3 L341.5,460.1 L344.5,458.9 L347.5,457.8 L350.5,456.6 L353.5,455.5 L356.5,454.4 L359.5,453.2 L362.5,452.1 L365.5,451.0 L368.5,449.9 L371.5,448.9 L374.5,447.8 L377.5,446.7 L380.5,445.7 L383.5,444.6 L386.5,443.6 L389.5,442.6 L392.5,441.5 L395.5,440.5 L398.5,439.5 L401.5,438.5 L404.5,437.5 L407.5,436.5 L410.5,435.5 L413.5,434.6 L416.5,433.6 L419.5,432.6 L422.5,431.7 L425.5,430.7 L428.5,429.7 L431.5,428.8 L434.5,427.9 L437.5,426.9 L440.5,426.0 L443.5,425.1 L446.5,424.1 L449.5,423.2 L452.5,422.3 L455.5,421.4 L458.5,420.4 L461.5,419.5 L464.5,418.6 L467.5,417.7 L470.5,416.8 L473.5,415.9 L476.5,415.0 L479.5,414.1 L482.5,413.2 L485.5,412.2 L488.5,411.3 L491.5,410.4 L494.5,409.5 L497.5,408.6 L500.5,407.7 L503.5,406.8 L506.5,405.9 L509.5,405.0 L512.5,404.1 L515.5,403.2 L518.5,402.3 L521.5,401.4 L524.5,400.5 L527.5,399.6 L530.5,398.7 L533.5,397.8 L536.5,396.9 L539.5,396.0 L542.5,395.1 L545.5,394.2 L548.5,393.3 L551.5,392.4 L554.5,391.5 L557.5,390.6 L560.5,389.7 L563.5,388.8 L566.5,387.9 L569.5,387.0 L572.5,386.1 L575.5,385.2 L578.5,384.3 L581.5,383.4 L584.5,382.5 L587.5,381.5 L590.5,380.6 L593.5,379.7 L596.5,378.8 L599.5,377.9 L602.5,376.9 L605.5,376.0 L608.5,375.1 L611.5,374.2 L614.5,373.2 L617.5,372.3 L620.5,371.4 L623.5,370.4 L626.5,369.5 L629.5,368.5 L632.5,367.6 L635.5,366.6 L638.5,365.7 L641.5,364.7 L644.5,363.8 L647.5,362.8 L650.5,361.9 L653.5,360.9 L656.5,359.9 L659.5,359.0 L662.5,358.0 L665.5,357.0 L668.5,356.1 L671.5,355.1 L674.5,354.1 L677.5,353.1 L680.5,352.1 L683.5,351.1 L686.5,350.1 L689.5,349.1 L692.5,348.1 L695.5,347.1 L698.5,346.1 L701.5,345.1 L704.5,344.1 L707.5,343.1 L710.5,342.0 L713.5,341.0 L716.5,340.0 L719.5,338.9 L722.5,337.9 L725.5,336.9 L728.5,335.8 L731.5,334.8 L734.5,333.7 L737.5,332.7 L740.5,331.6 L743.5,330.5 L746.5,329.5 L749.5,328.4 L752.5,327.3 L755.5,326.2 L758.5,325.1 L761.5,324.0 L764.5,322.9 L767.5,321.8 L770.5,320.7 L773.5,319.6 L776.5,318.5 L779.5,317.4 L782.5,316.2 L785.5,315.1 L788.5,314.0 L791.5,312.8 L794.5,311.7 L797.5,310.5 L800.5,309.4 L803.5,308.2 L806.5,307.1 L809.5,305.9 L812.5,304.7 L815.5,303.5 L818.5,302.3 L821.5,301.1 L824.5,299.9 L827.5,298.7 L830.5,297.5 L833.5,296.3 L836.5,295.1 L839.5,293.9 L842.5,292.6 L845.5,291.4 L848.5,290.1 L851.5,288.9 L854.5,287.6 L857.5,286.4 L860.5,285.1 L863.5,283.8 L866.5,282.5 L869.5,281.2 L872.5,280.0 L875.5,278.7 L878.5,277.3 L881.5,276.0 L884.5,274.7 L887.5,273.4 L890.5,272.0 L893.5,270.7 L896.5,269.4 L899.5,268.0 L902.5,266.6 L905.5,265.3 L908.5,263.9 L911.5,262.5 L914.5,261.1 L917.5,259.7 L920.5,258.3 L923.5,256.9 L926.5,255.5 L929.5,254.1 L932.5,252.6 L935.5,251.2 L938.5,249.8 L941.5,248.3 L944.5,246.8 L947.5,245.4 L950.5,243.9 L953.5,242.4 L956.5,240.9 L959.5,239.4 L962.5,237.9 L965.5,236.4 L968.5,234.9 L971.5,233.3 L974.5,231.8 L977.5,230.2 L980.5,228.7 L983.5,227.1 L986.5,225.5 L989.5,224.0 L992.5,222.4 L995.5,220.8 L998.5,219.2 L1001.5,217.5 L1004.5,215.9 L1007.5,214.3 L1010.5,212.7 L1013.5,211.0 L1016.5,209.3 L1019.5,207.7 L1022.5,206.0 L1025.5,204.3 L1028.5,202.6 L1031.5,200.9 L1034.5,199.2 L1037.5,197.5 L1040.5,195.8 L1043.5,194.0 L1046.5,192.3 L1049.5,190.5 L1052.5,188.7 L1055.5,187.0 L1058.5,185.2 L1061.5,183.4 L1064.5,181.6 L1067.5,179.8 L1070.5,177.9 L1073.5,176.1 L1076.5,174.3 L1079.5,172.4 L1082.5,170.5 L1085.5,168.7 L1088.5,166.8 L1091.5,164.9 L1094.5,163.0 L1097.5,161.1 L1100.5,159.1 L1103.5,157.2 L1106.5,155.3 L1109.5,153.3 L1112.5,151.4 L1115.5,149.4 L1118.5,147.4 L1121.5,145.4 L1124.5,143.4 L1127.5,141.4 L1130.5,139.3 L1133.5,137.3 L1136.5,135.3 L1139.5,133.2 L1142.5,131.1 L1145.5,129.0 L1148.5,127.0 L1151.5,124.8 L1154.5,122.7 L1157.5,120.6 L1160.5,118.5 L1163.5,116.3 L1166.5,114.2 L1169.5,112.0 L1172.5,109.8 L1175.5,107.6 L1178.5,105.4 L1181.5,103.2 L1184.5,101.0 L1184.7,100.8" stroke="#2424e6" stroke-width="2.3"/>
<path d="M105.0,568.8 L108.0,566.3 L111.0,564.0 L114.0,561.6 L117.0,559.4 L120.0,557.3 L123.0,555.2 L126.0,553.1 L129.0,551.2 L132.0,549.3 L135.0,547.5 L138.0,545.7 L141.0,544.0 L144.0,542.3 L147.0,540.7 L150.0,539.1 L153.0,537.6 L156.0,536.2 L159.0,534.7 L162.0,533.3 L165.0,532.0 L168.0,530.7 L171.0,529.4 L174.0,528.2 L177.0,527.0 L180.0,525.8 L183.0,524.7 L186.0,523.5 L189.0,522.4 L192.0,521.4 L195.0,520.3 L198.0,519.2 L201.0,518.2 L204.0,517.2 L207.0,516.2 L210.0,515.2 L213.0,514.2 L216.0,513.2 L219.0,512.2 L222.0,511.2 L225.0,510.1 L228.0,509.1 L231.0,508.1 L234.0,507.1 L237.0,506.1 L240.0,505.0 L243.0,504.0 L246.0,502.9 L249.0,501.8 L252.0,500.8 L255.0,499.7 L258.0,498.6 L261.0,497.5 L264.0,496.4 L267.0,495.3 L270.0,494.2 L273.0,493.1 L276.0,491.9 L279.0,490.8 L282.0,489.7 L285.0,488.6 L288.0,487.4 L291.0,486.3 L294.0,485.1 L297.0,484.0 L300.0,482.9 L303.0,481.7 L306.0,480.6 L309.0,479.4 L312.0,478.3 L315.0,477.1 L318.0,476.0 L321.0,474.8 L324.0,473.7 L327.0,472.6 L330.0,471.4 L333.0,470.3 L336.0,469.1 L339.0,468.0 L342.0,466.9 L345.0,465.8 L348.0,464.6 L351.0,463.5 L354.0,462.4 L357.0,461.3 L360.0,460.2 L363.0,459.1 L366.0,458.0 L369.0,456.9 L372.0,455.8 L375.0,454.7 L378.0,453.7 L381.0,452.6 L384.0,451.5 L387.0,450.5 L390.0,449.4 L393.0,448.3 L396.0,447.3 L399.0,446.2 L402.0,445.2 L405.0,444.2 L408.0,443.1 L411.0,442.1 L414.0,441.1 L417.0,440.0 L420.0,439.0 L423.0,438.0 L426.0,437.0 L429.0,436.0 L432.0,435.0 L435.0,434.0 L438.0,433.0 L441.0,432.0 L444.0,431.0 L447.0,430.0 L450.0,429.0 L453.0,428.0 L456.0,427.0 L459.0,426.0 L462.0,425.0 L465.0,424.1 L468.0,423.1 L471.0,422.1 L474.0,421.1 L477.0,420.2 L480.0,419.2 L483.0,418.2 L486.0,417.3 L489.0,416.3 L492.0,415.3 L495.0,414.4 L498.0,413.4 L501.0,412.5 L504.0,411.5 L507.0,410.6 L510.0,409.6 L513.0,408.6 L516.0,407.7 L519.0,406.7 L522.0,405.8 L525.0,404.8 L528.0,403.9 L531.0,403.0 L534.0,402.0 L537.0,401.1 L540.0,400.1 L543.0,399.2 L546.0,398.2 L549.0,397.3 L552.0,396.3 L555.0,395.4 L558.0,394.4 L561.0,393.5 L564.0,392.6 L567.0,391.6 L570.0,390.7 L573.0,389.7 L576.0,388.8 L579.0,387.8 L582.0,386.9 L585.0,385.9 L588.0,385.0 L591.0,384.0 L594.0,383.1 L597.0,382.1 L600.0,381.2 L603.0,380.2 L606.0,379.3 L609.0,378.3 L612.0,377.4 L615.0,376.4 L618.0,375.5 L621.0,374.5 L624.0,373.5 L627.0,372.6 L630.0,371.6 L633.0,370.6 L636.0,369.7 L639.0,368.7 L642.0,367.7 L645.0,366.7 L648.0,365.8 L651.0,364.8 L654.0,363.8 L657.0,362.8 L660.0,361.8 L663.0,360.8 L666.0,359.8 L669.0,358.8 L672.0,357.8 L675.0,356.8 L678.0,355.8 L681.0,354.8 L684.0,353.8 L687.0,352.8 L690.0,351.8 L693.0,350.8 L696.0,349.8 L699.0,348.7 L702.0,347.7 L705.0,346.7 L708.0,345.6 L711.0,344.6 L714.0,343.6 L717.0,342.5 L720.0,341.5 L723.0,340.4 L726.0,339.4 L729.0,338.3 L732.0,337.3 L735.0,336.2 L738.0,335.1 L741.0,334.0 L744.0,333.0 L747.0,331.9 L750.0,330.8 L753.0,329.7 L756.0,328.6 L759.0,327.5 L762.0,326.4 L765.0,325.3 L768.0,324.2 L771.0,323.1 L774.0,322.0 L777.0,320.9 L780.0,319.7 L783.0,318.6 L786.0,317.5 L789.0,316.3 L792.0,315.2 L795.0,314.0 L798.0,312.9 L801.0,311.7 L804.0,310.5 L807.0,309.4 L810.0,308.2 L813.0,307.0 L816.0,305.8 L819.0,304.6 L822.0,303.4 L825.0,302.2 L828.0,301.0 L831.0,299.8 L834.0,298.6 L837.0,297.3 L840.0,296.1 L843.0,294.9 L846.0,293.6 L849.0,292.4 L852.0,291.1 L855.0,289.9 L858.0,288.6 L861.0,287.3 L864.0,286.0 L867.0,284.8 L870.0,283.5 L873.0,282.2 L876.0,280.9 L879.0,279.6 L882.0,278.2 L885.0,276.9 L888.0,275.6 L891.0,274.2 L894.0,272.9 L897.0,271.5 L900.0,270.2 L903.0,268.8 L906.0,267.5 L909.0,266.1 L912.0,264.7 L915.0,263.3 L918.0,261.9 L921.0,260.5 L924.0,259.1 L927.0,257.7 L930.0,256.2 L933.0,254.8 L936.0,253.3 L939.0,251.9 L942.0,250.4 L945.0,249.0 L948.0,247.5 L951.0,246.0 L954.0,244.5 L957.0,243.0 L960.0,241.5 L963.0,240.0 L966.0,238.5 L969.0,237.0 L972.0,235.4 L975.0,233.9 L978.0,232.3 L981.0,230.8 L984.0,229.2 L987.0,227.6 L990.0,226.0 L993.0,224.4 L996.0,222.8 L999.0,221.2 L1002.0,219.6 L1005.0,217.9 L1008.0,216.3 L1011.0,214.7 L1014.0,213.0 L1017.0,211.3 L1020.0,209.7 L1023.0,208.0 L1026.0,206.3 L1029.0,204.6 L1032.0,202.9 L1035.0,201.1 L1038.0,199.4 L1041.0,197.7 L1044.0,195.9 L1047.0,194.2 L1050.0,192.4 L1053.0,190.6 L1056.0,188.8 L1059.0,187.0 L1062.0,185.2 L1065.0,183.4 L1068.0,181.6 L1071.0,179.7 L1074.0,177.9 L1077.0,176.0 L1080.0,174.2 L1083.0,172.3 L1086.0,170.4 L1089.0,168.5 L1092.0,166.6 L1095.0,164.7 L1098.0,162.7 L1101.0,160.8 L1104.0,158.8 L1107.0,156.9 L1110.0,154.9 L1113.0,152.9 L1116.0,150.9 L1119.0,148.9 L1122.0,146.9 L1125.0,144.9 L1128.0,142.8 L1131.0,140.8 L1134.0,138.7 L1137.0,136.6 L1140.0,134.6 L1143.0,132.5 L1146.0,130.4 L1149.0,128.2 L1152.0,126.1 L1155.0,124.0 L1158.0,121.8 L1161.0,119.7 L1164.0,117.5 L1167.0,115.3 L1170.0,113.1 L1173.0,110.9 L1176.0,108.7 L1179.0,106.4 L1182.0,104.2 L1184.7,102.1" stroke="#168616" stroke-width="2.3"/>
<path d="M120.0,576.6 L123.0,573.3 L126.0,570.1 L129.0,567.0 L132.0,564.1 L135.0,561.3 L138.0,558.6 L141.0,556.0 L144.0,553.6 L147.0,551.3 L150.0,549.1 L153.0,547.0 L156.0,545.0 L159.0,543.0 L162.0,541.2 L165.0,539.5 L168.0,537.8 L171.0,536.3 L174.0,534.8 L177.0,533.4 L180.0,532.0 L183.0,530.7 L186.0,529.5 L189.0,528.3 L192.0,527.1 L195.0,526.1 L198.0,525.0 L201.0,524.0 L204.0,523.0 L207.0,522.1 L210.0,521.1 L213.0,520.2 L216.0,519.3 L219.0,518.4 L222.0,517.6 L225.0,516.7 L228.0,515.8 L231.0,514.9 L234.0,514.0 L237.0,513.1 L240.0,512.2 L243.0,511.3 L246.0,510.3 L249.0,509.3 L252.0,508.3 L255.0,507.3 L258.0,506.3 L261.0,505.3 L264.0,504.3 L267.0,503.2 L270.0,502.2 L273.0,501.1 L276.0,500.0 L279.0,498.9 L282.0,497.8 L285.0,496.7 L288.0,495.6 L291.0,494.5 L294.0,493.3 L297.0,492.2 L300.0,491.0 L303.0,489.9 L306.0,488.7 L309.0,487.5 L312.0,486.4 L315.0,485.2 L318.0,484.0 L321.0,482.8 L324.0,481.6 L327.0,480.5 L330.0,479.3 L333.0,478.1 L336.0,476.9 L339.0,475.7 L342.0,474.5 L345.0,473.3 L348.0,472.1 L351.0,470.9 L354.0,469.7 L357.0,468.5 L360.0,467.3 L363.0,466.2 L366.0,465.0 L369.0,463.8 L372.0,462.6 L375.0,461.5 L378.0,460.3 L381.0,459.2 L384.0,458.0 L387.0,456.9 L390.0,455.7 L393.0,454.6 L396.0,453.5 L399.0,452.3 L402.0,451.2 L405.0,450.1 L408.0,449.0 L411.0,447.9 L414.0,446.8 L417.0,445.7 L420.0,444.7 L423.0,443.6 L426.0,442.5 L429.0,441.4 L432.0,440.4 L435.0,439.3 L438.0,438.2 L441.0,437.2 L444.0,436.1 L447.0,435.1 L450.0,434.1 L453.0,433.0 L456.0,432.0 L459.0,431.0 L462.0,429.9 L465.0,428.9 L468.0,427.9 L471.0,426.9 L474.0,425.9 L477.0,424.9 L480.0,423.9 L483.0,422.9 L486.0,421.9 L489.0,420.9 L492.0,419.9 L495.0,418.9 L498.0,417.9 L501.0,416.9 L504.0,415.9 L507.0,414.9 L510.0,413.9 L513.0,413.0 L516.0,412.0 L519.0,411.0 L522.0,410.0 L525.0,409.1 L528.0,408.1 L531.0,407.1 L534.0,406.2 L537.0,405.2 L540.0,404.2 L543.0,403.3 L546.0,402.3 L549.0,401.3 L552.0,400.4 L555.0,399.4 L558.0,398.4 L561.0,397.5 L564.0,396.5 L567.0,395.6 L570.0,394.6 L573.0,393.6 L576.0,392.7 L579.0,391.7 L582.0,390.7 L585.0,389.8 L588.0,388.8 L591.0,387.9 L594.0,386.9 L597.0,385.9 L600.0,385.0 L603.0,384.0 L606.0,383.0 L609.0,382.1 L612.0,381.1 L615.0,380.1 L618.0,379.1 L621.0,378.2 L624.0,377.2 L627.0,376.2 L630.0,375.2 L633.0,374.3 L636.0,373.3 L639.0,372.3 L642.0,371.3 L645.0,370.3 L648.0,369.3 L651.0,368.3 L654.0,367.3 L657.0,366.3 L660.0,365.3 L663.0,364.3 L666.0,363.3 L669.0,362.3 L672.0,361.3 L675.0,360.3 L678.0,359.2 L681.0,358.2 L684.0,357.2 L687.0,356.1 L690.0,355.1 L693.0,354.1 L696.0,353.0 L699.0,352.0 L702.0,350.9 L705.0,349.9 L708.0,348.8 L711.0,347.8 L714.0,346.7 L717.0,345.6 L720.0,344.6 L723.0,343.5 L726.0,342.4 L729.0,341.3 L732.0,340.3 L735.0,339.2 L738.0,338.1 L741.0,337.0 L744.0,335.9 L747.0,334.8 L750.0,333.7 L753.0,332.5 L756.0,331.4 L759.0,330.3 L762.0,329.2 L765.0,328.0 L768.0,326.9 L771.0,325.8 L774.0,324.6 L777.0,323.5 L780.0,322.3 L783.0,321.2 L786.0,320.0 L789.0,318.8 L792.0,317.7 L795.0,316.5 L798.0,315.3 L801.0,314.1 L804.0,312.9 L807.0,311.7 L810.0,310.5 L813.0,309.3 L816.0,308.1 L819.0,306.9 L822.0,305.7 L825.0,304.5 L828.0,303.2 L831.0,302.0 L834.0,300.7 L837.0,299.5 L840.0,298.2 L843.0,297.0 L846.0,295.7 L849.0,294.5 L852.0,293.2 L855.0,291.9 L858.0,290.6 L861.0,289.3 L864.0,288.0 L867.0,286.7 L870.0,285.4 L873.0,284.1 L876.0,282.8 L879.0,281.5 L882.0,280.1 L885.0,278.8 L888.0,277.4 L891.0,276.1 L894.0,274.7 L897.0,273.4 L900.0,272.0 L903.0,270.6 L906.0,269.2 L909.0,267.9 L912.0,266.5 L915.0,265.1 L918.0,263.6 L921.0,262.2 L924.0,260.8 L927.0,259.4 L930.0,258.0 L933.0,256.5 L936.0,255.1 L939.0,253.6 L942.0,252.1 L945.0,250.7 L948.0,249.2 L951.0,247.7 L954.0,246.2 L957.0,244.7 L960.0,243.2 L963.0,241.7 L966.0,240.2 L969.0,238.7 L972.0,237.2 L975.0,235.6 L978.0,234.1 L981.0,232.5 L984.0,231.0 L987.0,229.4 L990.0,227.8 L993.0,226.2 L996.0,224.6 L999.0,223.0 L1002.0,221.4 L1005.0,219.8 L1008.0,218.2 L1011.0,216.6 L1014.0,214.9 L1017.0,213.3 L1020.0,211.6 L1023.0,210.0 L1026.0,208.3 L1029.0,206.6 L1032.0,204.9 L1035.0,203.2 L1038.0,201.5 L1041.0,199.8 L1044.0,198.1 L1047.0,196.4 L1050.0,194.6 L1053.0,192.8 L1056.0,191.1 L1059.0,189.3 L1062.0,187.5 L1065.0,185.7 L1068.0,183.9 L1071.0,182.1 L1074.0,180.2 L1077.0,178.4 L1080.0,176.5 L1083.0,174.6 L1086.0,172.7 L1089.0,170.8 L1092.0,168.9 L1095.0,167.0 L1098.0,165.0 L1101.0,163.1 L1104.0,161.1 L1107.0,159.1 L1110.0,157.1 L1113.0,155.1 L1116.0,153.1 L1119.0,151.0 L1122.0,148.9 L1125.0,146.9 L1128.0,144.8 L1131.0,142.6 L1134.0,140.5 L1137.0,138.4 L1140.0,136.2 L1143.0,134.0 L1146.0,131.8 L1149.0,129.6 L1152.0,127.4 L1155.0,125.1 L1158.0,122.9 L1161.0,120.6 L1164.0,118.3 L1167.0,115.9 L1170.0,113.6 L1173.0,111.2 L1176.0,108.8 L1179.0,106.4 L1182.0,104.0 L1184.7,101.8" stroke="#f22424" stroke-width="2.3"/>
<path d="M128.8,596.2 L131.8,591.2 L134.8,586.6 L137.8,582.1 L140.8,578.0 L143.8,574.1 L146.8,570.4 L149.8,567.0 L152.8,563.8 L155.8,560.8 L158.8,557.9 L161.8,555.3 L164.8,552.8 L167.8,550.5 L170.8,548.3 L173.8,546.2 L176.8,544.3 L179.8,542.5 L182.8,540.8 L185.8,539.2 L188.8,537.6 L191.8,536.2 L194.8,534.8 L197.8,533.4 L200.8,532.2 L203.8,531.0 L206.8,529.8 L209.8,528.7 L212.8,527.6 L215.8,526.6 L218.8,525.6 L221.8,524.6 L224.8,523.6 L227.8,522.6 L230.8,521.7 L233.8,520.7 L236.8,519.7 L239.8,518.7 L242.8,517.7 L245.8,516.7 L248.8,515.6 L251.8,514.6 L254.8,513.5 L257.8,512.4 L260.8,511.3 L263.8,510.2 L266.8,509.1 L269.8,508.0 L272.8,506.9 L275.8,505.8 L278.8,504.6 L281.8,503.5 L284.8,502.3 L287.8,501.2 L290.8,500.0 L293.8,498.8 L296.8,497.7 L299.8,496.5 L302.8,495.3 L305.8,494.1 L308.8,492.9 L311.8,491.7 L314.8,490.5 L317.8,489.3 L320.8,488.2 L323.8,487.0 L326.8,485.8 L329.8,484.6 L332.8,483.4 L335.8,482.2 L338.8,481.0 L341.8,479.8 L344.8,478.6 L347.8,477.4 L350.8,476.2 L353.8,475.0 L356.8,473.9 L359.8,472.7 L362.8,471.5 L365.8,470.4 L368.8,469.2 L371.8,468.1 L374.8,466.9 L377.8,465.8 L380.8,464.7 L383.8,463.5 L386.8,462.4 L389.8,461.3 L392.8,460.2 L395.8,459.0 L398.8,457.9 L401.8,456.8 L404.8,455.7 L407.8,454.6 L410.8,453.5 L413.8,452.4 L416.8,451.3 L419.8,450.3 L422.8,449.2 L425.8,448.1 L428.8,447.0 L431.8,446.0 L434.8,444.9 L437.8,443.8 L440.8,442.8 L443.8,441.7 L446.8,440.6 L449.8,439.6 L452.8,438.5 L455.8,437.5 L458.8,436.4 L461.8,435.4 L464.8,434.3 L467.8,433.3 L470.8,432.3 L473.8,431.2 L476.8,430.2 L479.8,429.2 L482.8,428.1 L485.8,427.1 L488.8,426.1 L491.8,425.1 L494.8,424.0 L497.8,423.0 L500.8,422.0 L503.8,421.0 L506.8,420.0 L509.8,419.0 L512.8,417.9 L515.8,416.9 L518.8,415.9 L521.8,414.9 L524.8,413.9 L527.8,412.9 L530.8,411.9 L533.8,410.9 L536.8,409.9 L539.8,408.9 L542.8,407.9 L545.8,406.9 L548.8,405.9 L551.8,404.9 L554.8,403.9 L557.8,402.9 L560.8,401.9 L563.8,400.9 L566.8,399.9 L569.8,398.9 L572.8,397.9 L575.8,396.9 L578.8,395.9 L581.8,394.9 L584.8,393.9 L587.8,392.9 L590.8,391.9 L593.8,390.8 L596.8,389.8 L599.8,388.8 L602.8,387.8 L605.8,386.8 L608.8,385.8 L611.8,384.8 L614.8,383.8 L617.8,382.8 L620.8,381.8 L623.8,380.8 L626.8,379.8 L629.8,378.7 L632.8,377.7 L635.8,376.7 L638.8,375.7 L641.8,374.7 L644.8,373.6 L647.8,372.6 L650.8,371.6 L653.8,370.5 L656.8,369.5 L659.8,368.5 L662.8,367.4 L665.8,366.4 L668.8,365.4 L671.8,364.3 L674.8,363.3 L677.8,362.2 L680.8,361.2 L683.8,360.1 L686.8,359.1 L689.8,358.0 L692.8,357.0 L695.8,355.9 L698.8,354.8 L701.8,353.8 L704.8,352.7 L707.8,351.6 L710.8,350.5 L713.8,349.5 L716.8,348.4 L719.8,347.3 L722.8,346.2 L725.8,345.1 L728.8,344.0 L731.8,342.9 L734.8,341.8 L737.8,340.7 L740.8,339.6 L743.8,338.5 L746.8,337.3 L749.8,336.2 L752.8,335.1 L755.8,334.0 L758.8,332.8 L761.8,331.7 L764.8,330.6 L767.8,329.4 L770.8,328.3 L773.8,327.1 L776.8,326.0 L779.8,324.8 L782.8,323.6 L785.8,322.5 L788.8,321.3 L791.8,320.1 L794.8,318.9 L797.8,317.7 L800.8,316.5 L803.8,315.4 L806.8,314.2 L809.8,312.9 L812.8,311.7 L815.8,310.5 L818.8,309.3 L821.8,308.1 L824.8,306.8 L827.8,305.6 L830.8,304.4 L833.8,303.1 L836.8,301.9 L839.8,300.6 L842.8,299.4 L845.8,298.1 L848.8,296.8 L851.8,295.6 L854.8,294.3 L857.8,293.0 L860.8,291.7 L863.8,290.4 L866.8,289.1 L869.8,287.8 L872.8,286.5 L875.8,285.1 L878.8,283.8 L881.8,282.5 L884.8,281.1 L887.8,279.8 L890.8,278.5 L893.8,277.1 L896.8,275.7 L899.8,274.4 L902.8,273.0 L905.8,271.6 L908.8,270.2 L911.8,268.8 L914.8,267.4 L917.8,266.0 L920.8,264.6 L923.8,263.2 L926.8,261.8 L929.8,260.3 L932.8,258.9 L935.8,257.4 L938.8,256.0 L941.8,254.5 L944.8,253.0 L947.8,251.6 L950.8,250.1 L953.8,248.6 L956.8,247.1 L959.8,245.6 L962.8,244.1 L965.8,242.6 L968.8,241.0 L971.8,239.5 L974.8,238.0 L977.8,236.4 L980.8,234.9 L983.8,233.3 L986.8,231.7 L989.8,230.2 L992.8,228.6 L995.8,227.0 L998.8,225.4 L1001.8,223.8 L1004.8,222.1 L1007.8,220.5 L1010.8,218.9 L1013.8,217.2 L1016.8,215.6 L1019.8,213.9 L1022.8,212.3 L1025.8,210.6 L1028.8,208.9 L1031.8,207.2 L1034.8,205.5 L1037.8,203.8 L1040.8,202.0 L1043.8,200.3 L1046.8,198.6 L1049.8,196.8 L1052.8,195.0 L1055.8,193.2 L1058.8,191.4 L1061.8,189.6 L1064.8,187.8 L1067.8,186.0 L1070.8,184.1 L1073.8,182.3 L1076.8,180.4 L1079.8,178.5 L1082.8,176.6 L1085.8,174.7 L1088.8,172.8 L1091.8,170.9 L1094.8,168.9 L1097.8,166.9 L1100.8,165.0 L1103.8,163.0 L1106.8,160.9 L1109.8,158.9 L1112.8,156.9 L1115.8,154.8 L1118.8,152.7 L1121.8,150.6 L1124.8,148.5 L1127.8,146.4 L1130.8,144.2 L1133.8,142.1 L1136.8,139.9 L1139.8,137.7 L1142.8,135.4 L1145.8,133.2 L1148.8,130.9 L1151.8,128.7 L1154.8,126.4 L1157.8,124.0 L1160.8,121.7 L1163.8,119.3 L1166.8,117.0 L1169.8,114.6 L1172.8,112.1 L1175.8,109.7 L1178.8,107.2 L1181.8,104.7 L1184.7,102.3" stroke="#16b6b6" stroke-width="2.3"/>
<path d="M140.0,618.6 L143.0,612.9 L146.0,607.5 L149.0,602.3 L152.0,597.4 L155.0,592.8 L158.0,588.4 L161.0,584.2 L164.0,580.3 L167.0,576.5 L170.0,573.0 L173.0,569.7 L176.0,566.5 L179.0,563.5 L182.0,560.7 L185.0,558.0 L188.0,555.5 L191.0,553.1 L194.0,550.8 L197.0,548.7 L200.0,546.7 L203.0,544.8 L206.0,542.9 L209.0,541.2 L212.0,539.5 L215.0,537.9 L218.0,536.3 L221.0,534.8 L224.0,533.4 L227.0,531.9 L230.0,530.5 L233.0,529.1 L236.0,527.7 L239.0,526.4 L242.0,525.1 L245.0,523.8 L248.0,522.5 L251.0,521.2 L254.0,520.0 L257.0,518.8 L260.0,517.5 L263.0,516.3 L266.0,515.2 L269.0,514.0 L272.0,512.9 L275.0,511.7 L278.0,510.6 L281.0,509.5 L284.0,508.4 L287.0,507.3 L290.0,506.2 L293.0,505.1 L296.0,504.0 L299.0,503.0 L302.0,501.9 L305.0,500.8 L308.0,499.8 L311.0,498.7 L314.0,497.7 L317.0,496.6 L320.0,495.6 L323.0,494.6 L326.0,493.5 L329.0,492.5 L332.0,491.4 L335.0,490.4 L338.0,489.3 L341.0,488.2 L344.0,487.2 L347.0,486.1 L350.0,485.0 L353.0,483.9 L356.0,482.8 L359.0,481.7 L362.0,480.6 L365.0,479.4 L368.0,478.3 L371.0,477.2 L374.0,476.0 L377.0,474.8 L380.0,473.7 L383.0,472.5 L386.0,471.3 L389.0,470.1 L392.0,469.0 L395.0,467.8 L398.0,466.6 L401.0,465.4 L404.0,464.2 L407.0,463.0 L410.0,461.8 L413.0,460.5 L416.0,459.3 L419.0,458.1 L422.0,456.9 L425.0,455.7 L428.0,454.5 L431.0,453.3 L434.0,452.1 L437.0,450.9 L440.0,449.6 L443.0,448.4 L446.0,447.2 L449.0,446.0 L452.0,444.8 L455.0,443.7 L458.0,442.5 L461.0,441.3 L464.0,440.1 L467.0,438.9 L470.0,437.8 L473.0,436.6 L476.0,435.5 L479.0,434.3 L482.0,433.2 L485.0,432.0 L488.0,430.9 L491.0,429.8 L494.0,428.7 L497.0,427.6 L500.0,426.5 L503.0,425.4 L506.0,424.3 L509.0,423.2 L512.0,422.1 L515.0,421.0 L518.0,420.0 L521.0,418.9 L524.0,417.8 L527.0,416.8 L530.0,415.7 L533.0,414.7 L536.0,413.6 L539.0,412.6 L542.0,411.6 L545.0,410.5 L548.0,409.5 L551.0,408.5 L554.0,407.4 L557.0,406.4 L560.0,405.4 L563.0,404.4 L566.0,403.4 L569.0,402.4 L572.0,401.4 L575.0,400.3 L578.0,399.3 L581.0,398.3 L584.0,397.3 L587.0,396.3 L590.0,395.3 L593.0,394.3 L596.0,393.3 L599.0,392.3 L602.0,391.3 L605.0,390.3 L608.0,389.3 L611.0,388.3 L614.0,387.3 L617.0,386.3 L620.0,385.3 L623.0,384.3 L626.0,383.3 L629.0,382.3 L632.0,381.3 L635.0,380.3 L638.0,379.3 L641.0,378.3 L644.0,377.3 L647.0,376.3 L650.0,375.2 L653.0,374.2 L656.0,373.2 L659.0,372.2 L662.0,371.1 L665.0,370.1 L668.0,369.1 L671.0,368.0 L674.0,367.0 L677.0,365.9 L680.0,364.9 L683.0,363.8 L686.0,362.8 L689.0,361.7 L692.0,360.7 L695.0,359.6 L698.0,358.5 L701.0,357.4 L704.0,356.4 L707.0,355.3 L710.0,354.2 L713.0,353.1 L716.0,352.0 L719.0,350.9 L722.0,349.8 L725.0,348.7 L728.0,347.6 L731.0,346.5 L734.0,345.4 L737.0,344.2 L740.0,343.1 L743.0,342.0 L746.0,340.8 L749.0,339.7 L752.0,338.6 L755.0,337.4 L758.0,336.3 L761.0,335.1 L764.0,333.9 L767.0,332.8 L770.0,331.6 L773.0,330.4 L776.0,329.3 L779.0,328.1 L782.0,326.9 L785.0,325.7 L788.0,324.5 L791.0,323.3 L794.0,322.1 L797.0,320.9 L800.0,319.7 L803.0,318.5 L806.0,317.2 L809.0,316.0 L812.0,314.8 L815.0,313.5 L818.0,312.3 L821.0,311.0 L824.0,309.8 L827.0,308.5 L830.0,307.3 L833.0,306.0 L836.0,304.7 L839.0,303.4 L842.0,302.2 L845.0,300.9 L848.0,299.6 L851.0,298.3 L854.0,297.0 L857.0,295.7 L860.0,294.3 L863.0,293.0 L866.0,291.7 L869.0,290.4 L872.0,289.0 L875.0,287.7 L878.0,286.3 L881.0,285.0 L884.0,283.6 L887.0,282.3 L890.0,280.9 L893.0,279.5 L896.0,278.1 L899.0,276.7 L902.0,275.3 L905.0,273.9 L908.0,272.5 L911.0,271.1 L914.0,269.7 L917.0,268.3 L920.0,266.9 L923.0,265.4 L926.0,264.0 L929.0,262.5 L932.0,261.1 L935.0,259.6 L938.0,258.2 L941.0,256.7 L944.0,255.2 L947.0,253.7 L950.0,252.2 L953.0,250.7 L956.0,249.2 L959.0,247.7 L962.0,246.2 L965.0,244.7 L968.0,243.1 L971.0,241.6 L974.0,240.1 L977.0,238.5 L980.0,237.0 L983.0,235.4 L986.0,233.8 L989.0,232.2 L992.0,230.7 L995.0,229.1 L998.0,227.5 L1001.0,225.9 L1004.0,224.3 L1007.0,222.6 L1010.0,221.0 L1013.0,219.4 L1016.0,217.8 L1019.0,216.1 L1022.0,214.4 L1025.0,212.8 L1028.0,211.1 L1031.0,209.4 L1034.0,207.7 L1037.0,206.0 L1040.0,204.3 L1043.0,202.6 L1046.0,200.9 L1049.0,199.1 L1052.0,197.4 L1055.0,195.6 L1058.0,193.8 L1061.0,192.0 L1064.0,190.2 L1067.0,188.4 L1070.0,186.6 L1073.0,184.7 L1076.0,182.9 L1079.0,181.0 L1082.0,179.1 L1085.0,177.2 L1088.0,175.3 L1091.0,173.3 L1094.0,171.4 L1097.0,169.4 L1100.0,167.4 L1103.0,165.4 L1106.0,163.4 L1109.0,161.3 L1112.0,159.3 L1115.0,157.2 L1118.0,155.1 L1121.0,152.9 L1124.0,150.8 L1127.0,148.6 L1130.0,146.5 L1133.0,144.2 L1136.0,142.0 L1139.0,139.8 L1142.0,137.5 L1145.0,135.2 L1148.0,132.9 L1151.0,130.5 L1154.0,128.2 L1157.0,125.8 L1160.0,123.3 L1163.0,120.9 L1166.0,118.4 L1169.0,115.9 L1172.0,113.4 L1175.0,110.9 L1178.0,108.3 L1181.0,105.7 L1184.0,103.1 L1184.7,102.5" stroke="#b816bc" stroke-width="2.3"/>
</g>
<g fill="none" stroke="#168616" stroke-width="2.5" stroke-linejoin="miter">
<circle cx="105.0" cy="815.5" r="5.95"/>
<circle cx="216.0" cy="735.8" r="5.95"/>
<circle cx="357.5" cy="618.0" r="5.95"/>
<circle cx="470.5" cy="530.5" r="5.95"/>
<circle cx="582.0" cy="461.8" r="5.95"/>
<circle cx="720.8" cy="402.0" r="5.95"/>
<circle cx="823.0" cy="371.0" r="5.95"/>
<circle cx="956.0" cy="332.0" r="5.95"/>
<circle cx="1064.5" cy="288.8" r="5.95"/>
<circle cx="1185.0" cy="215.0" r="5.95"/>
</g>
<g fill="none" stroke="#f22424" stroke-width="2.5" stroke-linejoin="miter">
<rect x="115.0" y="844.5" width="10.1" height="10.1"/>
<rect x="254.4" y="746.0" width="10.1" height="10.1"/>
<rect x="360.9" y="658.7" width="10.1" height="10.1"/>
<rect x="477.4" y="565.0" width="10.1" height="10.1"/>
<rect x="578.5" y="497.7" width="10.1" height="10.1"/>
<rect x="701.0" y="440.2" width="10.1" height="10.1"/>
<rect x="829.2" y="399.9" width="10.1" height="10.1"/>
<rect x="946.0" y="367.4" width="10.1" height="10.1"/>
<rect x="1044.5" y="332.4" width="10.1" height="10.1"/>
<rect x="1180.0" y="254.4" width="10.1" height="10.1"/>
</g>
<g fill="none" stroke="#16b6b6" stroke-width="2.5" stroke-linejoin="miter">
<path d="M128.8,884.7 L134.4,892.5 L128.8,900.3 L123.0,892.5 Z"/>
<path d="M250.0,810.2 L255.7,818.0 L250.0,825.8 L244.3,818.0 Z"/>
<path d="M367.5,719.2 L373.2,727.0 L367.5,734.8 L361.8,727.0 Z"/>
<path d="M460.0,644.7 L465.7,652.5 L460.0,660.3 L454.3,652.5 Z"/>
<path d="M585.0,558.0 L590.7,565.8 L585.0,573.5 L579.3,565.8 Z"/>
<path d="M732.5,480.2 L738.2,488.0 L732.5,495.8 L726.8,488.0 Z"/>
<path d="M826.5,447.6 L832.2,455.4 L826.5,463.2 L820.8,455.4 Z"/>
<path d="M937.0,413.2 L942.7,421.0 L937.0,428.8 L931.3,421.0 Z"/>
<path d="M1063.0,362.2 L1068.7,370.0 L1063.0,377.8 L1057.3,370.0 Z"/>
<path d="M1184.5,287.2 L1190.2,295.0 L1184.5,302.8 L1178.8,295.0 Z"/>
</g>
<g fill="none" stroke="#b816bc" stroke-width="2.5" stroke-linejoin="miter">
<path d="M140.0,825.1 L146.4,836.3 L133.6,836.3 Z"/>
<path d="M271.0,735.1 L277.4,746.3 L264.6,746.3 Z"/>
<path d="M378.0,654.6 L384.4,665.8 L371.6,665.8 Z"/>
<path d="M463.8,580.1 L470.1,591.3 L457.4,591.3 Z"/>
<path d="M598.5,476.9 L604.9,488.1 L592.1,488.1 Z"/>
<path d="M702.0,420.6 L708.4,431.8 L695.6,431.8 Z"/>
<path d="M829.5,374.1 L835.9,385.3 L823.1,385.3 Z"/>
<path d="M930.5,342.6 L936.9,353.8 L924.1,353.8 Z"/>
<path d="M1077.0,284.1 L1083.4,295.3 L1070.6,295.3 Z"/>
<path d="M1185.0,213.1 L1191.4,224.3 L1178.6,224.3 Z"/>
</g>
<g fill="none" stroke="#168616" stroke-width="2.5" stroke-linejoin="miter">
<circle cx="105.0" cy="570.0" r="5.95"/>
<circle cx="202.5" cy="518.0" r="5.95"/>
<circle cx="367.5" cy="457.5" r="5.95"/>
<circle cx="468.8" cy="421.8" r="5.95"/>
<circle cx="600.0" cy="381.0" r="5.95"/>
<circle cx="683.8" cy="354.5" r="5.95"/>
<circle cx="831.0" cy="299.5" r="5.95"/>
<circle cx="950.0" cy="246.0" r="5.95"/>
<circle cx="1077.5" cy="174.5" r="5.95"/>
<circle cx="1185.0" cy="102.5" r="5.95"/>
</g>
<g fill="none" stroke="#f22424" stroke-width="2.5" stroke-linejoin="miter">
<rect x="115.0" y="573.7" width="10.1" height="10.1"/>
<rect x="229.9" y="508.7" width="10.1" height="10.1"/>
<rect x="334.9" y="470.9" width="10.1" height="10.1"/>
<rect x="460.9" y="423.7" width="10.1" height="10.1"/>
<rect x="581.0" y="385.9" width="10.1" height="10.1"/>
<rect x="701.0" y="344.9" width="10.1" height="10.1"/>
<rect x="821.0" y="300.9" width="10.1" height="10.1"/>
<rect x="945.0" y="243.9" width="10.1" height="10.1"/>
<rect x="1086.0" y="164.9" width="10.1" height="10.1"/>
<rect x="1180.0" y="98.0" width="10.1" height="10.1"/>
</g>
<g fill="none" stroke="#16b6b6" stroke-width="2.5" stroke-linejoin="miter">
<path d="M128.8,589.7 L134.4,597.5 L128.8,605.3 L123.0,597.5 Z"/>
<path d="M236.0,511.2 L241.7,519.0 L236.0,526.8 L230.3,519.0 Z"/>
<path d="M355.0,468.2 L360.7,476.0 L355.0,483.8 L349.3,476.0 Z"/>
<path d="M501.8,414.7 L507.4,422.5 L501.8,430.3 L496.1,422.5 Z"/>
<path d="M627.5,375.9 L633.2,383.8 L627.5,391.6 L621.8,383.8 Z"/>
<path d="M707.0,344.7 L712.7,352.5 L707.0,360.3 L701.3,352.5 Z"/>
<path d="M810.0,307.2 L815.7,315.0 L810.0,322.8 L804.3,315.0 Z"/>
<path d="M955.0,241.2 L960.7,249.0 L955.0,256.8 L949.3,249.0 Z"/>
<path d="M1060.0,184.7 L1065.7,192.5 L1060.0,200.3 L1054.3,192.5 Z"/>
<path d="M1185.0,95.2 L1190.7,103.0 L1185.0,110.8 L1179.3,103.0 Z"/>
</g>
<g fill="none" stroke="#b816bc" stroke-width="2.5" stroke-linejoin="miter">
<path d="M140.0,613.1 L146.4,624.3 L133.6,624.3 Z"/>
<path d="M256.0,513.1 L262.4,524.3 L249.6,524.3 Z"/>
<path d="M371.0,470.6 L377.4,481.8 L364.6,481.8 Z"/>
<path d="M492.5,423.1 L498.9,434.3 L486.1,434.3 Z"/>
<path d="M588.8,389.1 L595.1,400.3 L582.4,400.3 Z"/>
<path d="M723.5,342.9 L729.9,354.1 L717.1,354.1 Z"/>
<path d="M831.0,300.6 L837.4,311.8 L824.6,311.8 Z"/>
<path d="M936.0,254.1 L942.4,265.3 L929.6,265.3 Z"/>
<path d="M1068.0,181.8 L1074.4,193.1 L1061.6,193.1 Z"/>
<path d="M1185.0,97.1 L1191.4,108.3 L1178.6,108.3 Z"/>
</g>
<g stroke="#262626" stroke-width="2.3" fill="none" stroke-linecap="butt">
<path d="M88.35,893.2 H1176.8"/>
<path d="M125.30,893.2 v-10.5"/>
<path d="M258.38,893.2 v-10.5"/>
<path d="M391.47,893.2 v-10.5"/>
<path d="M524.55,893.2 v-10.5"/>
<path d="M657.64,893.2 v-10.5"/>
<path d="M790.73,893.2 v-10.5"/>
<path d="M923.81,893.2 v-10.5"/>
<path d="M1056.89,893.2 v-10.5"/>
</g>
<g stroke="#2424e6" stroke-width="2.3" fill="none">
<path d="M1175.8,893.2 H1184.8 V10.85"/>
<path d="M1184.8,893.20 h-11.0"/>
<path d="M1184.8,746.33 h-11.0"/>
<path d="M1184.8,599.47 h-11.0"/>
<path d="M1184.8,452.60 h-11.0"/>
<path d="M1184.8,305.73 h-11.0"/>
<path d="M1184.8,158.87 h-11.0"/>
<path d="M1184.8,12.00 h-11.0"/>
</g>
<g font-size="20.8" fill="#262626" stroke="#262626" stroke-width="0.3" text-anchor="end">
<text x="82.6" y="901.2">3</text>
<text x="82.6" y="827.8">3.1</text>
<text x="82.6" y="754.3">3.2</text>
<text x="82.6" y="680.9">3.3</text>
<text x="82.6" y="607.5">3.4</text>
<text x="82.6" y="534.0">3.5</text>
<text x="82.6" y="460.6">3.6</text>
<text x="82.6" y="387.2">3.7</text>
<text x="82.6" y="313.7">3.8</text>
<text x="82.6" y="240.3">3.9</text>
<text x="82.6" y="166.9">4</text>
<text x="82.6" y="93.4">4.1</text>
<text x="82.6" y="20.0">4.2</text>
</g>
<g font-size="20.8" fill="#262626" stroke="#262626" stroke-width="0.3" text-anchor="middle">
<text x="125.3" y="920.5">4</text>
<text x="258.4" y="920.5">3.5</text>
<text x="391.5" y="920.5">3</text>
<text x="524.6" y="920.5">2.5</text>
<text x="657.6" y="920.5">2</text>
<text x="790.7" y="920.5">1.5</text>
<text x="923.8" y="920.5">1</text>
<text x="1056.9" y="920.5">0.5</text>
</g>
<g font-size="20.8" fill="#2424e6" stroke="#2424e6" stroke-width="0.3" text-anchor="start">
<text x="1191.2" y="901.2" textLength="35.6" lengthAdjust="spacingAndGlyphs">100</text>
<text x="1191.2" y="754.3" textLength="35.6" lengthAdjust="spacingAndGlyphs">140</text>
<text x="1191.2" y="607.5" textLength="35.6" lengthAdjust="spacingAndGlyphs">180</text>
<text x="1191.2" y="460.6" textLength="35.6" lengthAdjust="spacingAndGlyphs">220</text>
<text x="1191.2" y="313.7" textLength="35.6" lengthAdjust="spacingAndGlyphs">260</text>
<text x="1191.2" y="166.9" textLength="35.6" lengthAdjust="spacingAndGlyphs">300</text>
<text x="1191.2" y="20.0" textLength="35.6" lengthAdjust="spacingAndGlyphs">340</text>
</g>
<text x="636.6" y="965.6" font-size="38.5" fill="#1c1c1c" text-anchor="middle" textLength="416" lengthAdjust="spacingAndGlyphs">Discharge Capacity [Ah]</text>
<text transform="translate(32.8,453) rotate(-90)" font-size="38.5" fill="#1c1c1c" text-anchor="middle" textLength="190.5" lengthAdjust="spacingAndGlyphs">Voltage [V]</text>
<text transform="translate(1266.6,452.4) rotate(-90)" font-size="38.5" fill="#2424e6" text-anchor="middle" textLength="179" lengthAdjust="spacingAndGlyphs">Force [lbs]</text>
<rect x="517.4" y="87.4" width="177.1" height="164.2" rx="1.5" fill="#fff" stroke="#262626" stroke-width="2.2"/>
<line x1="530.4" y1="107.0" x2="594.8" y2="107.0" stroke="#2424e6" stroke-width="2.3"/>
<text x="602.6" y="114.6" font-size="20.4" fill="#262626" stroke="#262626" stroke-width="0.3" textLength="62.5" lengthAdjust="spacingAndGlyphs">N=325</text>
<line x1="530.4" y1="138.3" x2="594.8" y2="138.3" stroke="#168616" stroke-width="2.3"/>
<g fill="none" stroke="#168616" stroke-width="2.5"><circle cx="562.6" cy="138.3" r="5.95"/></g>
<text x="602.6" y="145.9" font-size="20.4" fill="#262626" stroke="#262626" stroke-width="0.3" textLength="74.5" lengthAdjust="spacingAndGlyphs">N=1675</text>
<line x1="530.4" y1="169.6" x2="594.8" y2="169.6" stroke="#f22424" stroke-width="2.3"/>
<g fill="none" stroke="#f22424" stroke-width="2.5"><rect x="557.6" y="164.5" width="10.1" height="10.1"/></g>
<text x="602.6" y="177.2" font-size="20.4" fill="#262626" stroke="#262626" stroke-width="0.3" textLength="74.5" lengthAdjust="spacingAndGlyphs">N=3025</text>
<line x1="530.4" y1="200.9" x2="594.8" y2="200.9" stroke="#16b6b6" stroke-width="2.3"/>
<g fill="none" stroke="#16b6b6" stroke-width="2.5"><path d="M562.6,193.1 L568.3,200.9 L562.6,208.7 L556.9,200.9 Z"/></g>
<text x="602.6" y="208.5" font-size="20.4" fill="#262626" stroke="#262626" stroke-width="0.3" textLength="74.5" lengthAdjust="spacingAndGlyphs">N=4375</text>
<line x1="530.4" y1="232.2" x2="594.8" y2="232.2" stroke="#b816bc" stroke-width="2.3"/>
<g fill="none" stroke="#b816bc" stroke-width="2.5"><path d="M562.6,226.3 L569.0,237.5 L556.2,237.5 Z"/></g>
<text x="602.6" y="239.8" font-size="20.4" fill="#262626" stroke="#262626" stroke-width="0.3" textLength="74.5" lengthAdjust="spacingAndGlyphs">N=5332</text>
<text x="179.8" y="455.4" font-size="35" font-weight="bold" fill="#161616">N</text>
<line x1="223.3" y1="434.2" x2="302.4" y2="528.6" stroke="#0e0e0e" stroke-width="2.9"/><path d="M317.5,546.6 L291.0,530.3 L302.4,528.6 L306.1,517.7 Z" fill="#0a0a0a"/>
<circle cx="634.2" cy="365.6" r="15.2" fill="none" stroke="#2c2c2c" stroke-width="2.4"/>
<line x1="613.0" y1="366.8" x2="477.5" y2="365.6" stroke="#262626" stroke-width="2.4"/><path d="M459.5,365.4 L483.6,357.0 L477.5,365.6 L483.4,374.2 Z" fill="#0a0a0a"/>
<circle cx="774.8" cy="469.8" r="15.0" fill="none" stroke="#2c2c2c" stroke-width="2.4"/>
<line x1="791.5" y1="471.2" x2="920.4" y2="471.2" stroke="#262626" stroke-width="2.4"/><path d="M938.4,471.2 L914.4,480.0 L920.4,471.2 L914.4,462.4 Z" fill="#0a0a0a"/>
</svg>
</body>
</html>
